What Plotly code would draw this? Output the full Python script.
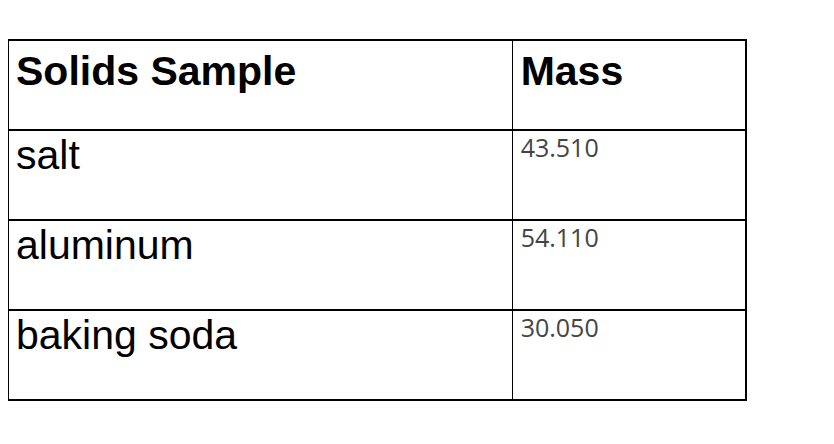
import plotly.graph_objects as go

headers = ["<b>Solids Sample</b>", "<b>Mass</b>"]
samples = ["salt", "aluminum", "baking soda"]
masses = ["43.510", "54.110", "30.050"]

fig = go.Figure(
    go.Table(
        domain=dict(x=[0, 0.8849], y=[0, 0.928]),
        columnwidth=[506, 234],
        header=dict(
            values=headers,
            height=90,
            align="left",
            line=dict(color="black", width=1.5),
            fill=dict(color="white"),
            font=dict(family="Liberation Sans, Arial", size=41, color="black"),
        ),
        cells=dict(
            values=[samples, masses],
            height=90,
            align="left",
            line=dict(color="black", width=1.5),
            fill=dict(color="white"),
            font=dict(
                family=["Liberation Sans, Arial", "Open Sans"],
                size=[41, 25],
                color=["black", "#444"],
            ),
        ),
    )
)

fig.update_layout(
    width=834,
    height=444,
    margin=dict(l=0, r=0, t=0, b=0),
    paper_bgcolor="white",
)

fig.write_html("out.html")
